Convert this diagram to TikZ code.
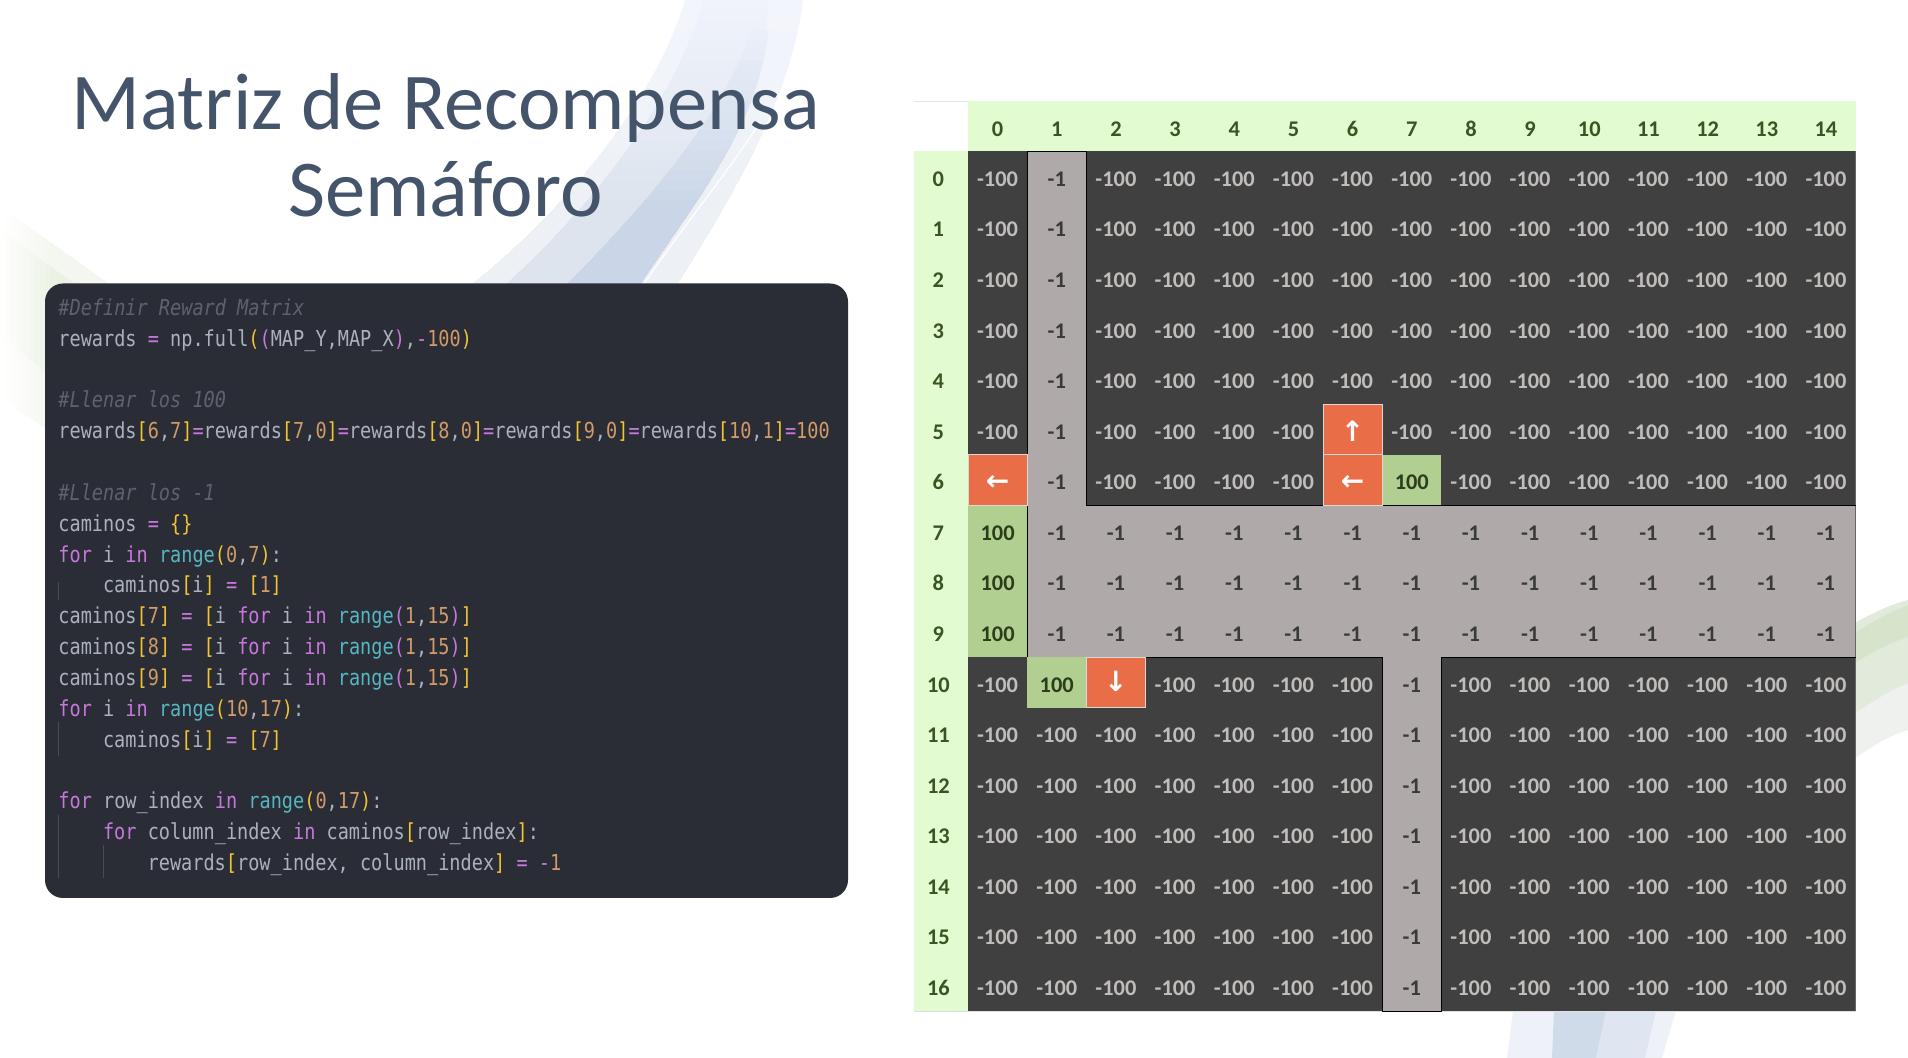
\documentclass[tikz,border=0pt]{standalone}
\usepackage{fontspec}
\usepackage{xcolor}
\setmainfont{Carlito}
\newfontfamily\codefont[FakeStretch=0.844]{DejaVu Sans Mono}
\newfontfamily\arrowfont{DejaVu Sans}
\definecolor{panelbg}{HTML}{2A2D35}
\definecolor{codetxt}{HTML}{ABB2BF}
\definecolor{ckw}{HTML}{C678DD}
\definecolor{cfn}{HTML}{56B6C2}
\definecolor{cnum}{HTML}{D19A66}
\definecolor{cyel}{HTML}{F2C531}
\definecolor{cpar}{HTML}{C678DD}
\definecolor{ccom}{HTML}{5C6370}
\definecolor{titlec}{HTML}{44546A}
\definecolor{hdrbg}{HTML}{E2FBD0}
\definecolor{hdrtx}{HTML}{375623}
\definecolor{darkc}{HTML}{404040}
\definecolor{grayc}{HTML}{AFAAA9}
\definecolor{greenc}{HTML}{B0CF91}
\definecolor{orangec}{HTML}{E96D47}
\definecolor{dtxt}{HTML}{C0BDBB}
\definecolor{ltxt}{HTML}{3A3A3A}
\definecolor{ptxt}{HTML}{2B3D1A}
\definecolor{atop}{HTML}{F3F5FC}
\definecolor{abot}{HTML}{EDF1F5}
\definecolor{btop}{HTML}{F0F3FB}
\definecolor{bbot}{HTML}{DDE4EE}
\definecolor{ctop}{HTML}{F0F3FB}
\definecolor{cbot}{HTML}{CAD6E7}
\definecolor{bluea}{HTML}{EEF1F8}
\definecolor{blueb}{HTML}{E0E6F1}
\definecolor{bluec}{HTML}{CFDBE8}
\definecolor{greena}{HTML}{EEF1EE}
\definecolor{greenb}{HTML}{E2EADC}
\definecolor{greend}{HTML}{D6E4CC}
\definecolor{greenl}{HTML}{F4F7F0}
\definecolor{greenm}{HTML}{EBF2E4}
\newcommand\K[1]{\textcolor{ckw}{#1}}
\newcommand\Fn[1]{\textcolor{cfn}{#1}}
\newcommand\N[1]{\textcolor{cnum}{#1}}
\newcommand\Y[1]{\textcolor{cyel}{#1}}
\newcommand\Pa[1]{\textcolor{cpar}{#1}}
\newcommand\Cm[1]{\textcolor{ccom}{\itshape #1}}
\tikzset{
  codeline/.style={anchor=base west,inner sep=0pt,text=codetxt,font=\codefont\fontsize{11}{11}\selectfont},
  cellbase/.style={inner sep=0pt,text height=9.6pt,text depth=0pt,font=\fontsize{11.2}{11}\selectfont\bfseries},
  hdrlabel/.style={cellbase,text=hdrtx},
  speccell/.style={cellbase,minimum width=29.585pt,minimum height=25.285pt},
  goalcell/.style={speccell,fill=greenc,text=ptxt},
  warncell/.style={speccell,fill=orangec,draw=black!15,line width=0.5pt,text=white,text height=9pt,font=\arrowfont\fontsize{14}{14}\selectfont\bfseries},
  titletext/.style={anchor=base,text=titlec,font=\fontsize{40.3}{40.3}\selectfont,inner sep=0pt}
}
% vertical gradient inside a clip: #1 clip path, #2 top colour, #3 bottom colour
\newcommand\vgrad[3]{%
  \begin{scope}\clip #1;
  \foreach \i in {0,...,28} {\pgfmathtruncatemacro\pc{min(100,\i*5)}\fill[#3!\pc!#2] (400,\i*10) rectangle (900,290);}
  \end{scope}}
% horizontal fade from white inside a clip: #1 clip path, #2 colour
\newcommand\hfade[2]{%
  \begin{scope}\clip #1;
  \foreach \i in {0,...,10} {\pgfmathtruncatemacro\pc{\i*10}\fill[#2!\pc!white] (\i*5,190) rectangle (140,450);}
  \end{scope}}
\begin{document}
\begin{tikzpicture}[x=0.5pt,y=-0.5pt]
\useasboundingbox (0,0) rectangle (1908,1058);
\fill[white] (0,0) rectangle (1908,1058);
% background swooshes: blue, top
\vgrad{(685,0) .. controls (665,75) and (590,190) .. (473,284) -- (677,284) .. controls (730,200) and (790,100) .. (803,0) -- cycle}{atop}{abot}
\vgrad{(703,0) .. controls (685,80) and (610,190) .. (507,284) -- (640,284) .. controls (700,195) and (765,110) .. (768,0) -- cycle}{btop}{bbot}
\vgrad{(752,30) .. controls (725,110) and (660,190) .. (568,284) -- (640,284) .. controls (700,195) and (758,125) .. (768,30) -- cycle}{ctop}{cbot}
\draw[white,line width=0.6pt] (644,284) .. controls (680,230) and (730,170) .. (760,122);
% background: blue, bottom
\fill[bluea] (1513,1011) -- (1507,1058) -- (1662,1058) -- (1676,1011) -- cycle;
\fill[blueb] (1606,1011) -- (1596,1058) -- (1645,1058) -- (1656,1011) -- cycle;
\fill[bluec] (1554,1011) -- (1552,1058) -- (1596,1058) -- (1606,1011) -- cycle;
% background: green, left
\hfade{(0,207) -- (107,283) -- (107,290) -- (45,428) -- (0,397) -- cycle}{greenl}
\hfade{(0,230) -- (73,283) -- (73,290) -- (45,372) -- (0,333) -- cycle}{greenm}
% background: green, right
\fill[greena] (1855,623) .. controls (1875,612) and (1890,605) .. (1908,600) -- (1908,730) .. controls (1890,735) and (1875,745) .. (1855,758) -- cycle;
\fill[greenb] (1855,623) .. controls (1875,612) and (1890,605) .. (1908,600) -- (1908,683) .. controls (1890,690) and (1875,700) .. (1855,713) -- cycle;
\fill[greend] (1855,633) .. controls (1875,620) and (1890,612) .. (1908,605) -- (1908,637) .. controls (1890,643) and (1875,650) .. (1855,663) -- cycle;
% title
\node[titletext] (title1) at (445.5,130) {Matriz de Recompensa};
\node[titletext] (title2) at (445.5,217) {Semáforo};
% code panel
\fill[panelbg,rounded corners=9pt] (45,283.5) rectangle (848,898);
\draw[panelbg!85!white,line width=0.4pt] (58,582) -- (58,600);
\draw[panelbg!85!white,line width=0.4pt] (58,722) -- (58,756);
\draw[panelbg!85!white,line width=0.4pt] (58,815) -- (58,878);
\draw[panelbg!85!white,line width=0.4pt] (103,845) -- (103,878);
\def\lx{58}
\def\lh{30.83}
\def\lb{315.4}
\node[codeline] (l0) at (\lx,\lb+0*\lh) {\Cm{\#Definir Reward Matrix}};
\node[codeline] (l1) at (\lx,\lb+1*\lh) {rewards \K{=} np.full\Y{(}\Pa{(}MAP\_Y,MAP\_X\Pa{)},\K{-}\N{100}\Y{)}};
\node[codeline] (l3) at (\lx,\lb+3*\lh) {\Cm{\#Llenar los 100}};
\node[codeline] (l4) at (\lx,\lb+4*\lh) {rewards\Y{[}\N{6},\N{7}\Y{]}\K{=}rewards\Y{[}\N{7},\N{0}\Y{]}\K{=}rewards\Y{[}\N{8},\N{0}\Y{]}\K{=}rewards\Y{[}\N{9},\N{0}\Y{]}\K{=}rewards\Y{[}\N{10},\N{1}\Y{]}\K{=}\N{100}};
\node[codeline] (l6) at (\lx,\lb+6*\lh) {\Cm{\#Llenar los -1}};
\node[codeline] (l7) at (\lx,\lb+7*\lh) {caminos \K{=} \Y{\{\}}};
\node[codeline] (l8) at (\lx,\lb+8*\lh) {\K{for} i \K{in} \Fn{range}\Y{(}\N{0},\N{7}\Y{)}:};
\node[codeline] (l9) at (\lx+44.64,\lb+9*\lh) {caminos\Y{[}i\Y{]} \K{=} \Y{[}\N{1}\Y{]}};
\node[codeline] (l10) at (\lx,\lb+10*\lh) {caminos\Y{[}\N{7}\Y{]} \K{=} \Y{[}i \K{for} i \K{in} \Fn{range}\Pa{(}\N{1},\N{15}\Pa{)}\Y{]}};
\node[codeline] (l11) at (\lx,\lb+11*\lh) {caminos\Y{[}\N{8}\Y{]} \K{=} \Y{[}i \K{for} i \K{in} \Fn{range}\Pa{(}\N{1},\N{15}\Pa{)}\Y{]}};
\node[codeline] (l12) at (\lx,\lb+12*\lh) {caminos\Y{[}\N{9}\Y{]} \K{=} \Y{[}i \K{for} i \K{in} \Fn{range}\Pa{(}\N{1},\N{15}\Pa{)}\Y{]}};
\node[codeline] (l13) at (\lx,\lb+13*\lh) {\K{for} i \K{in} \Fn{range}\Y{(}\N{10},\N{17}\Y{)}:};
\node[codeline] (l14) at (\lx+44.64,\lb+14*\lh) {caminos\Y{[}i\Y{]} \K{=} \Y{[}\N{7}\Y{]}};
\node[codeline] (l16) at (\lx,\lb+16*\lh) {\K{for} row\_index \K{in} \Fn{range}\Y{(}\N{0},\N{17}\Y{)}:};
\node[codeline] (l17) at (\lx+44.64,\lb+17*\lh) {\K{for} column\_index \K{in} caminos\Y{[}row\_index\Y{]}:};
\node[codeline] (l18) at (\lx+89.28,\lb+18*\lh) {rewards\Y{[}row\_index, column\_index\Y{]} \K{=} \K{-}\N{1}};
% table
\fill[hdrbg] (968,101) rectangle (1855.6,151.5);
\fill[hdrbg] (914,151.5) rectangle (968,1011);
\draw[black!10,line width=0.4pt] (914,101) -- (968,101);
\draw[black!12,line width=0.4pt] (914,1011.5) -- (1855.6,1011.5);
\begin{scope}[shift={(968,151.5)},x=29.585pt,y=-25.285pt]
\fill[darkc] (0,0) rectangle (15,17);
\fill[grayc] (1,0) -- (2,0) -- (2,7) -- (15,7) -- (15,10) -- (8,10) -- (8,17) -- (7,17) -- (7,10) -- (1,10) -- cycle;
\draw[black!60,line width=0.4pt] (15,0) -- (15,17);
\draw[black,line width=0.6pt] (15,7) -- (2,7) -- (2,0) -- (1,0) -- (1,10) -- (7,10) -- (7,17) -- (8,17) -- (8,10) -- (15,10);
\foreach \c in {0,...,14} \node[hdrlabel] (h\c) at (\c+.5,-0.48) {\c};
\foreach \r in {0,...,16} {
  \node[hdrlabel] (r\r) at (-0.5,\r+.5) {\r};
  \foreach \c in {0,...,14} {
    \def\kind{D}%
    \ifnum\c=1 \ifnum\r<10 \def\kind{G}\fi\fi
    \ifnum\r>6 \ifnum\r<10 \ifnum\c>0 \def\kind{G}\fi\fi\fi
    \ifnum\c=7 \ifnum\r>9 \def\kind{G}\fi\fi
    \ifnum\c=7 \ifnum\r=6 \def\kind{P}\fi\fi
    \ifnum\c=0 \ifnum\r>6 \ifnum\r<10 \def\kind{P}\fi\fi\fi
    \ifnum\c=1 \ifnum\r=10 \def\kind{P}\fi\fi
    \ifnum\c=6 \ifnum\r=5 \def\kind{A}\fi\ifnum\r=6 \def\kind{A}\fi\fi
    \ifnum\c=0 \ifnum\r=6 \def\kind{A}\fi\fi
    \ifnum\c=2 \ifnum\r=10 \def\kind{A}\fi\fi
    \if\kind D\node[cellbase,text=dtxt] (c\r-\c) at (\c+.5,\r+.5) {-100};\fi
    \if\kind G\node[cellbase,text=ltxt] (c\r-\c) at (\c+.5,\r+.5) {-1};\fi
    \if\kind P\node[goalcell] (c\r-\c) at (\c+.5,\r+.5) {100};\fi
  }
}
\node[warncell] (c5-6) at (6.5,5.5) {\raisebox{-1.2pt}{↑}};
\node[warncell] (c6-6) at (6.5,6.5) {\raisebox{-0.4pt}{←}};
\node[warncell] (c6-0) at (0.5,6.5) {\raisebox{-0.4pt}{←}};
\node[warncell] (c10-2) at (2.5,10.5) {↓};
\end{scope}
\end{tikzpicture}
\end{document}
